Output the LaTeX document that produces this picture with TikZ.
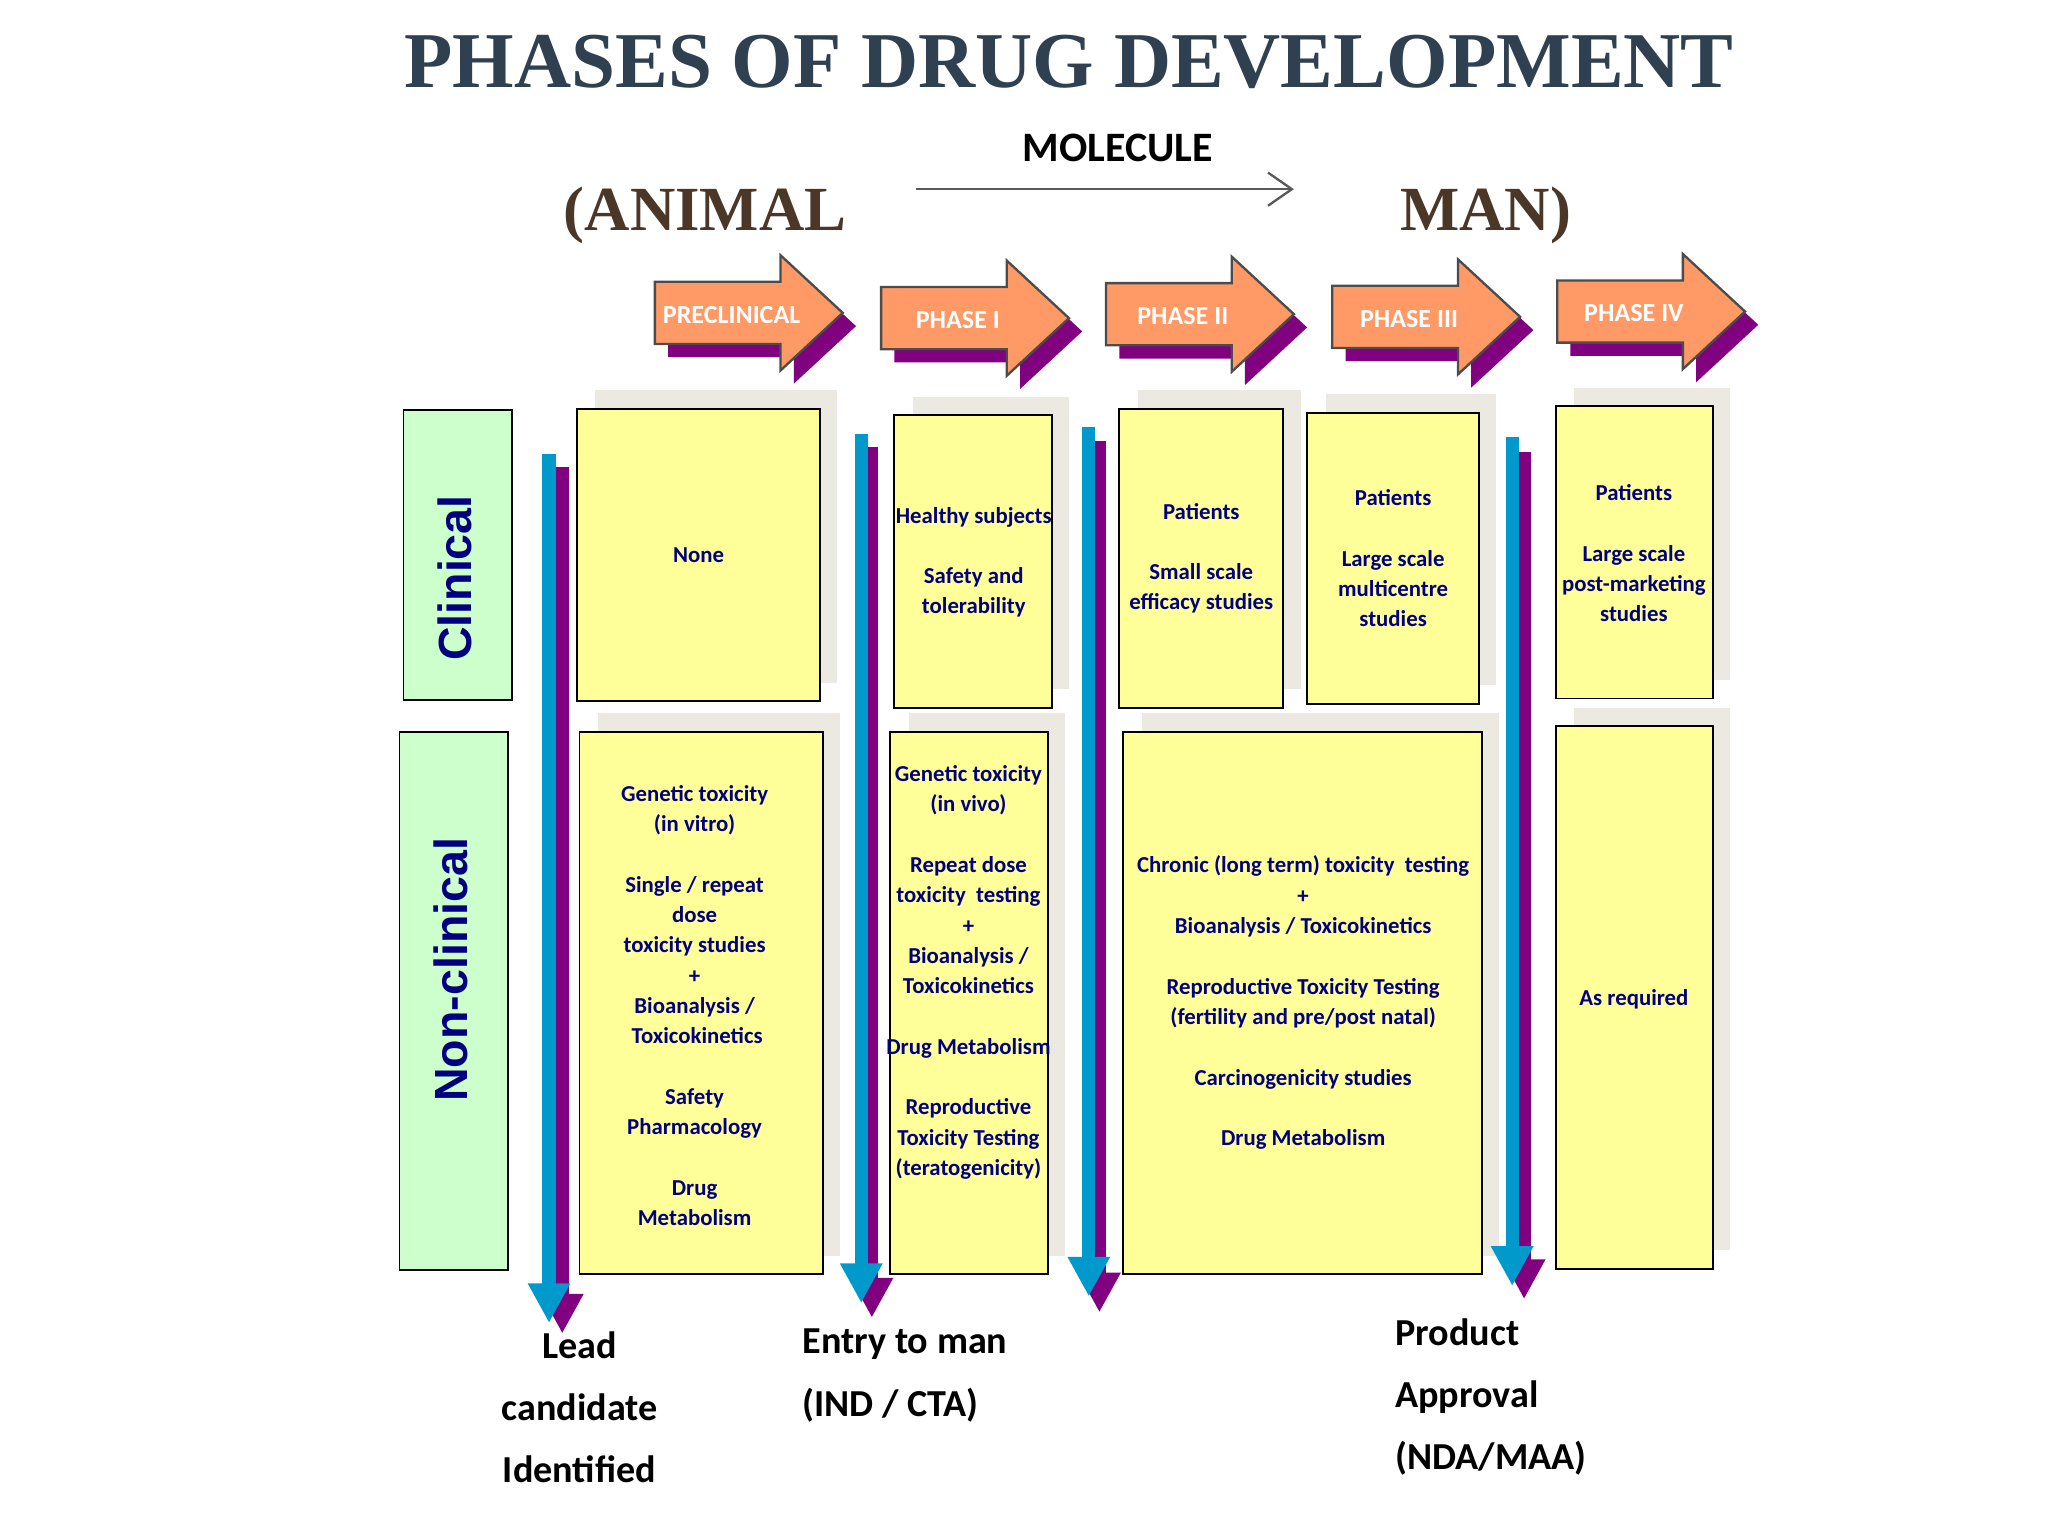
\documentclass[tikz,border=0pt]{standalone}
\usepackage{fontspec}
\setmainfont{Carlito}
\newfontfamily\serifbold{Liberation Serif}
\newfontfamily\arialf{Liberation Sans}
\usetikzlibrary{arrows.meta}
\definecolor{ttl}{HTML}{2F4050}
\definecolor{brn}{HTML}{4A3728}
\definecolor{navy}{HTML}{000080}
\definecolor{yel}{HTML}{FFFF99}
\definecolor{grn}{HTML}{CCFFCC}
\definecolor{shd}{HTML}{ECE9E2}
\definecolor{org}{HTML}{FF9966}
\definecolor{pur}{HTML}{800080}
\definecolor{blu}{HTML}{0099CC}
\tikzset{
 ybox/.style={draw=black,fill=yel,line width=0.4pt},
 gbox/.style={draw=black,fill=grn,line width=0.4pt},
 shbox/.style={fill=shd},
 btxt/.style={text=navy,font=\bfseries\fontsize{4.9}{6.5}\selectfont,align=center,inner sep=0pt},
 side/.style={text=navy,font=\arialf\bfseries\fontsize{10}{12}\selectfont,rotate=90,inner sep=0pt},
 blab/.style={font=\bfseries\fontsize{8.2}{10.5}\selectfont,inner sep=0pt},
 varr/.style={line width=0.1cm,-{Triangle[width=0.3cm,length=0.3cm]}},
}
\newcommand{\blockarrow}[4]{%
 \fill[pur] ({#1+10},{#2+10}) -- ({#1+105},{#2+10}) -- ({#1+105},{#2-10}) -- ({#1+152},{#2+33.5}) -- ({#1+105},{#2+77}) -- ({#1+105},{#2+57}) -- ({#1+10},{#2+57}) -- cycle;
 \draw[fill=org,draw=black!70,line width=0.5pt] (#1,#2) -- ({#1+95},#2) -- ({#1+95},{#2-20}) -- ({#1+142},{#2+23.5}) -- ({#1+95},{#2+67}) -- ({#1+95},{#2+47}) -- (#1,{#2+47}) -- cycle;
 \node[text=white,font=\bfseries\fontsize{5.6}{7}\selectfont,inner sep=0pt] (#4) at ({#1+58},{#2+25}) {#3};}
\newcommand{\yb}[4]{%
 \fill[shbox] ({#1+14},{#2-14}) rectangle ({#3+13},{#4-14});
 \draw[ybox] (#1,#2) rectangle (#3,#4);}
\begin{document}
\begin{tikzpicture}[x=0.01cm,y=-0.01cm]
\useasboundingbox (0,0) rectangle (1548,1161);
\node[text=ttl,font=\serifbold\bfseries\fontsize{17}{20}\selectfont,inner sep=0pt] (title) at (808,47) {PHASES OF DRUG DEVELOPMENT};
\node[font=\bfseries\fontsize{9}{11}\selectfont,inner sep=0pt] (mol) at (845,112) {MOLECULE};
\coordinate (ma) at (692,143);
\coordinate (mb) at (978,143);
\draw[gray!70!black,line width=0.5pt,-{Straight Barb[length=0.18cm,width=0.25cm]}] (ma) -- (mb);
\node[text=brn,font=\serifbold\bfseries\fontsize{13.5}{16}\selectfont,inner sep=0pt] (an) at (533,163) {(ANIMAL};
\node[text=brn,font=\serifbold\bfseries\fontsize{13.5}{16}\selectfont,inner sep=0pt] (man) at (1123,163) {MAN)};
\blockarrow{495}{213}{PRECLINICAL}{a0}
\blockarrow{666}{217}{PHASE I}{a1}
\blockarrow{836}{214}{PHASE II}{a2}
\blockarrow{1007}{216}{PHASE III}{a3}
\blockarrow{1177}{212}{PHASE IV}{a4}
\draw[gbox] (305,310) rectangle (387,529);
\node[side] (cl) at (344,437) {Clinical};
\draw[gbox] (302,553) rectangle (384,960);
\node[side] (ncl) at (341,733) {Non-clinical};
\yb{436}{309}{620}{530}
\yb{676}{314}{795}{535}
\yb{846}{309}{970}{535}
\yb{988}{312}{1118}{532}
\yb{1176}{307}{1295}{528}
\yb{438}{553}{622}{963}
\yb{673}{553}{792}{963}
\yb{849}{553}{1120}{963}
\yb{1176}{549}{1295}{959}
\node[btxt] (t1) at (528,420) {None};
\node[btxt] (t2) at (736,425) {Healthy subjects\\[0.23cm]Safety and\\tolerability};
\node[btxt] (t3) at (908,422) {Patients\\[0.23cm]Small scale\\efficacy studies};
\node[btxt] (t4) at (1053,422) {Patients\\[0.23cm]Large scale\\multicentre\\studies};
\node[btxt] (t5) at (1235,418) {Patients\\[0.23cm]Large scale\\post-marketing\\studies};
\node[btxt] (n1) at (525,760) {Genetic toxicity\\(in vitro)\\[0.23cm]Single / repeat\\dose\\toxicity studies\\+\\Bioanalysis /\\ \ Toxicokinetics\\[0.23cm]Safety\\Pharmacology\\[0.23cm]Drug\\Metabolism};
\node[btxt] (n2) at (732,735) {Genetic toxicity\\(in vivo)\\[0.23cm]Repeat dose\\toxicity\ \ testing\\+\\Bioanalysis /\\Toxicokinetics\\[0.23cm]Drug Metabolism\\[0.23cm]Reproductive\\Toxicity Testing\\(teratogenicity)};
\node[btxt] (n3) at (985,758) {Chronic (long term) toxicity\ \ testing\\+\\Bioanalysis / Toxicokinetics\\[0.23cm]Reproductive Toxicity Testing\\(fertility and pre/post natal)\\[0.23cm]Carcinogenicity studies\\[0.23cm]Drug Metabolism};
\node[btxt] (n4) at (1235,755) {As required};
\foreach \bx/\by/\be/\px/\py/\pe [count=\i] in {415/343/1000/425/353/1008, 651/328/985/659/338/996, 823/323/980/831/333/992, 1143/330/972/1152/342/982}{
 \coordinate (ps\i) at (\px,\py);
 \coordinate (pe\i) at (\px,\pe);
 \coordinate (bs\i) at (\bx,\by);
 \coordinate (be\i) at (\bx,\be);
 \draw[varr,pur] (ps\i) -- (pe\i);
 \draw[varr,blu] (bs\i) -- (be\i);
}
\node[blab,align=center,anchor=north] (l1) at (438,1006) {Lead\\[0.1cm]candidate\\[0.1cm]Identified};
\node[blab,align=left,anchor=north west] (l2) at (606,1004) {Entry to man\\[0.1cm](IND / CTA)};
\node[blab,align=left,anchor=north west] (l3) at (1054,996) {Product\\[0.1cm]Approval\\[0.1cm](NDA/MAA)};
\end{tikzpicture}
\end{document}
